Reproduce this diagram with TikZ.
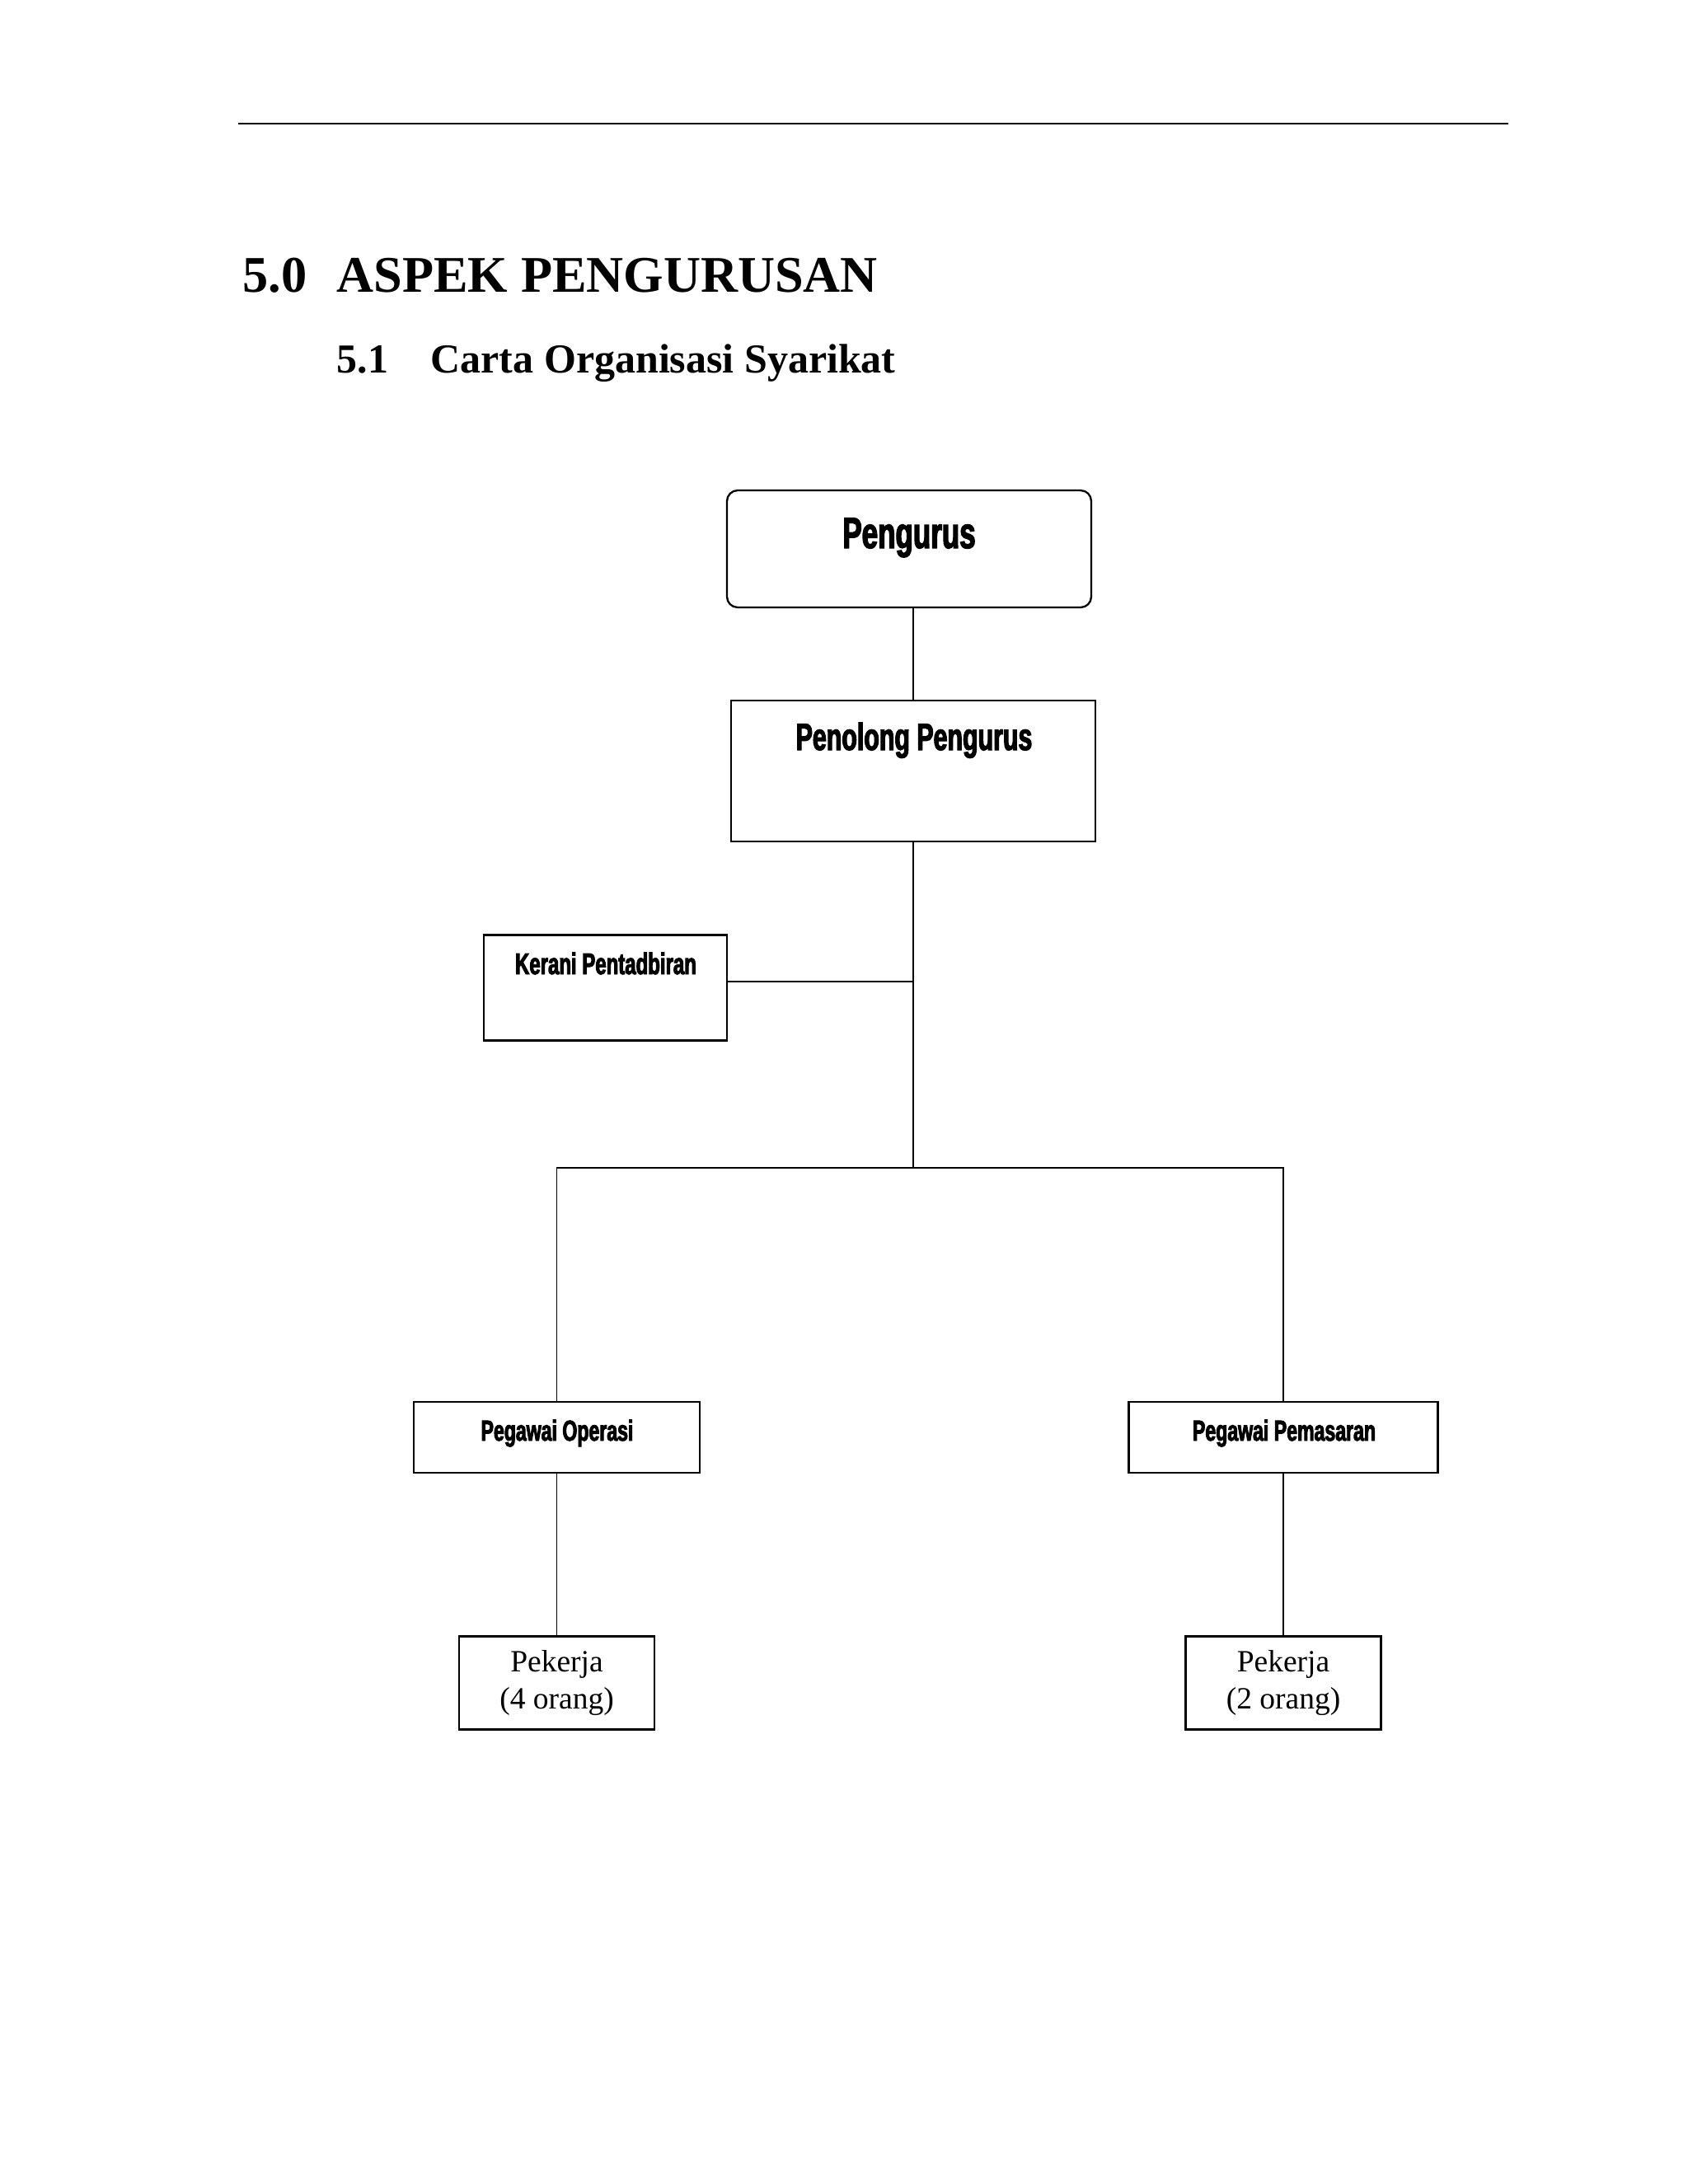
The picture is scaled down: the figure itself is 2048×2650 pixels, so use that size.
\documentclass[tikz,border=0pt]{standalone}
\usepackage{fontspec}
\setmainfont{Liberation Serif}
\newfontfamily\condfont[FakeStretch=0.66,BoldFeatures={FakeBold=2.6}]{Liberation Sans}
\begin{document}
\begin{tikzpicture}[x=0.3pt,y=-0.3pt,
  box/.style={draw, line width=0.7pt, inner sep=0pt},
  conn/.style={line width=0.55pt},
  txt/.style={inner sep=0pt, anchor=base},
  heading/.style={inner sep=0pt, anchor=base west},
  big/.style={font={\condfont\bfseries\fontsize{#1}{#1}\selectfont}}
]
\useasboundingbox (0,0) rectangle (2048,2650);

% page rule
\coordinate (ruleL) at (289,150);
\coordinate (ruleR) at (1830,150);
\draw[line width=0.8pt] (ruleL) -- (ruleR);

% headings
\node[heading, font={\bfseries\fontsize{18.7pt}{22pt}\selectfont}] (n50) at (294,354) {5.0};
\node[heading, font={\bfseries\fontsize{18.7pt}{22pt}\selectfont}] (t50) at (408,354) {ASPEK PENGURUSAN};
\node[heading, font={\bfseries\fontsize{15pt}{18pt}\selectfont}] (n51) at (408,452) {5.1};
\node[heading, font={\bfseries\fontsize{15pt}{18pt}\selectfont}] (t51) at (522,452) {Carta Organisasi Syarikat};

% boxes
\node[box, rounded corners=3.9pt, minimum width=132.6pt, minimum height=42.6pt] (p) at (1103,666) {};
\node[box, minimum width=132.6pt, minimum height=51.3pt] (pn) at (1108,935.5) {};
\node[box, minimum width=88.5pt, minimum height=38.4pt] (k) at (734.5,1198.5) {};
\node[box, minimum width=104.1pt, minimum height=25.8pt] (po) at (675.5,1744) {};
\node[box, minimum width=112.5pt, minimum height=25.8pt] (pm) at (1557,1744) {};
\node[box, minimum width=71.1pt, minimum height=33.9pt, align=center,
      font={\fontsize{11.25pt}{13.4pt}\selectfont}] (wl) at (675.5,2042) {Pekerja\\(4 orang)};
\node[box, minimum width=71.1pt, minimum height=33.9pt, align=center,
      font={\fontsize{11.25pt}{13.4pt}\selectfont}] (wr) at (1557,2042) {Pekerja\\(2 orang)};

% box labels
\node[txt, big=15.9pt] (tp) at (1103,665) {Pengurus};
\node[txt, big=13.8pt] (tpn) at (1109,910) {Penolong Pengurus};
\node[txt, big=10.9pt] (tk) at (735,1182) {Kerani Pentadbiran};
\node[txt, big=10.5pt] (tpo) at (676,1748) {Pegawai Operasi};
\node[txt, big=10.5pt] (tpm) at (1558,1748) {Pegawai Pemasaran};

% connectors
\coordinate (kj) at (1108,1191);
\coordinate (bar) at (1108,1417);
\draw[conn] (p.south -| pn.north) -- (pn.north);
\draw[conn] (pn.south) -- (bar);
\draw[conn] (kj -| k.east) -- (kj);
\draw[conn] (po.north) |- (bar) -| (pm.north);
\draw[conn] (po.south) -- (wl.north);
\draw[conn] (pm.south) -- (wr.north);
\end{tikzpicture}
\end{document}
